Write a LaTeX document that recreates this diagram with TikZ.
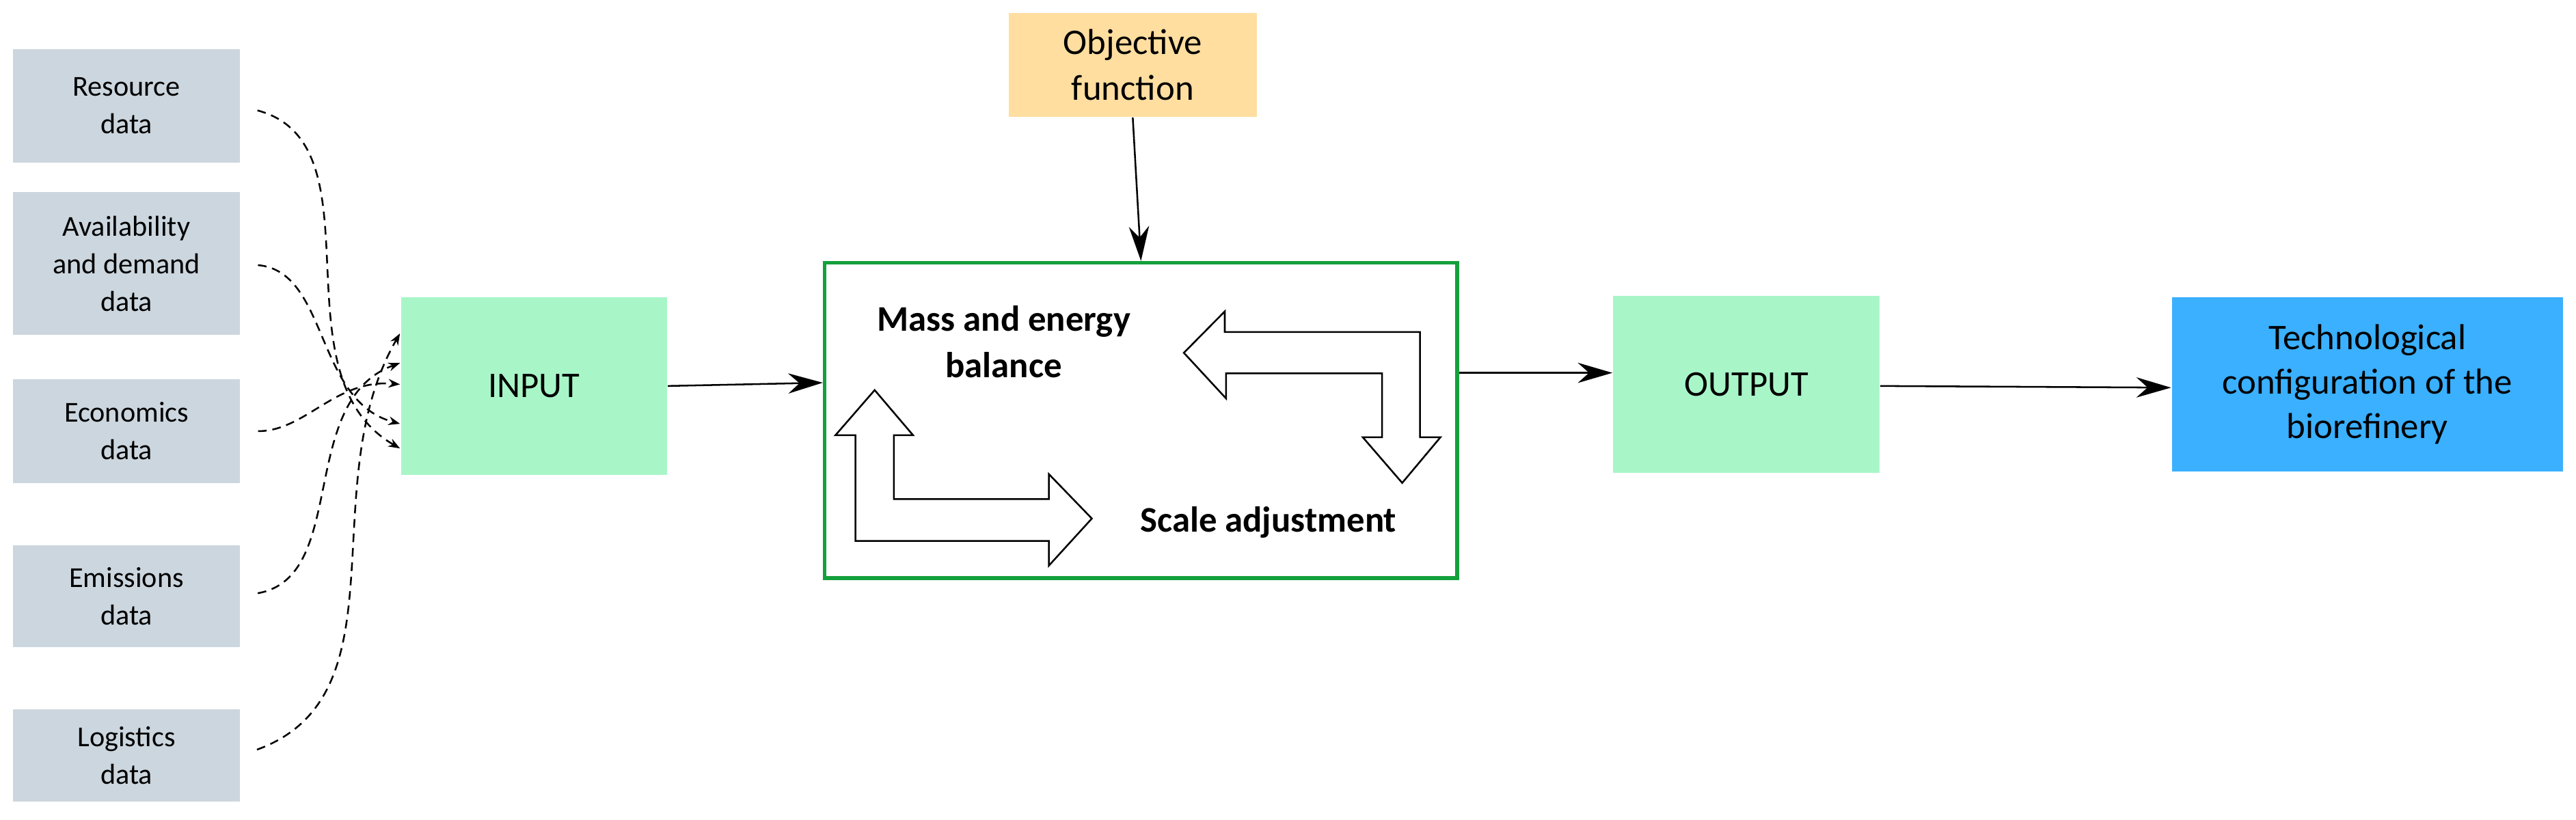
\documentclass[tikz,border=0pt]{standalone}
\usepackage{fontspec}
\setmainfont{Carlito}
\usepackage{tikz}
\usetikzlibrary{arrows.meta}

\definecolor{datagray}{RGB}{204,214,222}
\definecolor{iogreen}{RGB}{168,246,200}
\definecolor{objorange}{RGB}{255,222,160}
\definecolor{techblue}{RGB}{58,176,255}
\definecolor{boxgreen}{RGB}{20,160,60}

\begin{document}
\begin{tikzpicture}[x=0.02cm, y=-0.02cm, line width=0.6pt,
    data/.style={fill=datagray, minimum width=138*0.02cm, align=center, font=\fontsize{10}{13}\selectfont},
    io/.style={fill=iogreen, minimum width=162*0.02cm, minimum height=108*0.02cm, font=\fontsize{12.5}{15}\selectfont},
    feed/.style={densely dashed, -{Stealth[length=4pt]}, shorten <=6pt},
    flow/.style={-{Stealth[length=12pt, width=7pt]}},
    hollow/.style={draw, fill=white, line width=0.6pt}]
    \useasboundingbox (0,0) rectangle (1568,499);

    % data boxes
    \node[data, minimum height=69*0.02cm] (res) at (77,64.5) {Resource\\data};
    \node[data, minimum height=87*0.02cm] (avail) at (77,160.5) {Availability\\and demand\\data};
    \node[data, minimum height=63*0.02cm] (econ) at (77,262.5) {Economics\\data};
    \node[data, minimum height=62*0.02cm] (emis) at (77,363) {Emissions\\data};
    \node[data, minimum height=56*0.02cm] (logi) at (77,460) {Logistics\\data};

    % main blocks
    \node[io] (input) at (325,235) {INPUT};
    \node[draw=boxgreen, line width=1.3pt, minimum width=385*0.02cm, minimum height=192*0.02cm] (model) at (694.5,256) {};
    \node[fill=objorange, minimum width=151*0.02cm, minimum height=63*0.02cm, align=center, font=\fontsize{12.5}{16}\selectfont] (obj) at (689.5,39.5) {Objective\\function};
    \node[io] (output) at (1063,234) {OUTPUT};
    \node[fill=techblue, minimum width=238*0.02cm, minimum height=106*0.02cm, align=center, font=\fontsize{12.5}{15.5}\selectfont] (tech) at (1441,234) {Technological\\configuration of the\\biorefinery};

    % dashed feeds into INPUT
    \draw[feed] (res.east) to[out=-15, in=150] ([yshift=-38*0.02cm]input.west);
    \draw[feed] (avail.east) to[out=-5, in=165] ([yshift=-23*0.02cm]input.west);
    \draw[feed] (econ.east) to[out=0, in=175] ([yshift=1*0.02cm]input.west);
    \draw[feed] (emis.east) to[out=10, in=200] ([yshift=14*0.02cm]input.west);
    \draw[feed] (logi.east) to[out=20, in=240] ([yshift=32*0.02cm]input.west);

    % solid flows
    \draw[flow] (input.east) -- (model.west |- 0,233);
    \draw[flow] (obj.south) -- (model.north);
    \draw[flow] (model.east |- 0,227) -- (output.west |- 0,227);
    \draw[flow] (output.east |- 0,235) -- (tech.west |- 0,236);

    % loop arrows inside the model
    \draw[hollow] (720.6,214.8) -- (745.5,189.6) -- (745.5,202.1) -- (864.3,202.1) -- (864.3,266.2)
      -- (876.8,266.2) -- (853.5,294) -- (829.5,266.2) -- (841.2,266.2) -- (841.2,227.3)
      -- (746.3,227.3) -- (746.3,242.6) -- cycle;
    \draw[hollow] (532.4,237.5) -- (555.8,265) -- (544.1,265) -- (544.1,303.9) -- (638.4,303.9)
      -- (638.4,288.6) -- (664.6,315.7) -- (638.4,344.4) -- (638.4,329.3) -- (520.7,329.3)
      -- (520.7,265) -- (508.5,265) -- cycle;

    % labels inside the model
    \node[font=\bfseries\fontsize{12.5}{16}\selectfont, align=center] (mass) at (611,208) {Mass and energy\\balance};
    \node[font=\bfseries\fontsize{12.5}{15}\selectfont] (scale) at (772,318) {Scale adjustment};
\end{tikzpicture}
\end{document}
